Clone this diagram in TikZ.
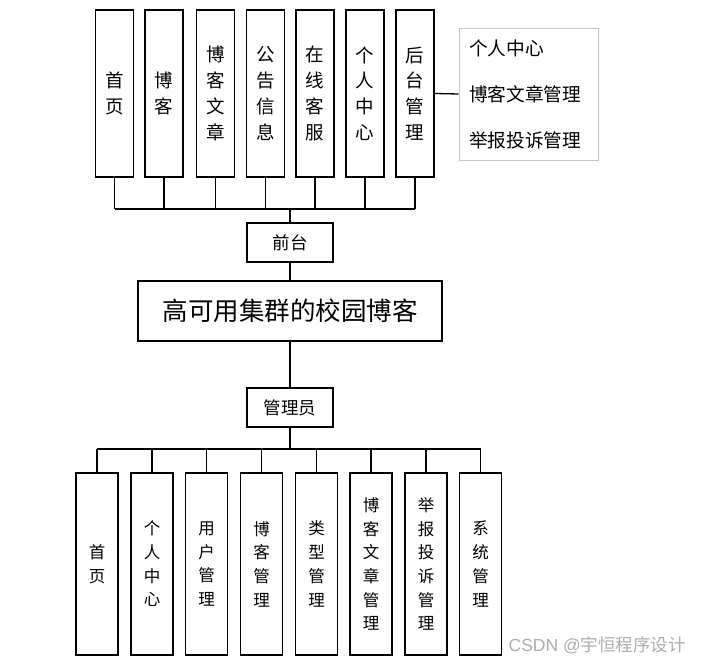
\documentclass[tikz,border=0pt]{standalone}
\usepackage{fontspec}
\newfontfamily\cjk{Noto Sans CJK SC}
\newfontfamily\latinwm{Liberation Sans}
\begin{document}
\begin{tikzpicture}[x=1pt,y=-1pt, line width=1.3pt,
  topbox/.style={draw, fill=white, minimum width=38pt, minimum height=167pt, inner sep=0pt, align=center, font=\cjk\fontsize{18.5}{25.7}\selectfont},
  botbox/.style={draw, fill=white, minimum width=42pt, minimum height=182pt, inner sep=0pt, align=center, font=\cjk\fontsize{16.5}{23.7}\selectfont},
  midbox/.style={draw, fill=white, inner sep=0pt, font=\cjk\fontsize{17.5}{20}\selectfont},
  panel/.style={draw=gray!45, line width=0.8pt, fill=white, minimum width=139pt, minimum height=132pt, inner xsep=10pt, text width=119pt, align=left, font=\cjk\fontsize{18.7}{46}\selectfont},
  link/.style={draw, line width=1.3pt},
  thick link/.style={draw, line width=2.6pt}]
\useasboundingbox (0,0) rectangle (715,663);
% top row
\node[topbox] (t1) at (114.5,93.5) {首\\页};
\node[topbox] (t2) at (164,93.5) {博\\客};
\node[topbox] (t3) at (215.7,93.5) {博\\客\\文\\章};
\node[topbox] (t4) at (265.7,93.5) {公\\告\\信\\息};
\node[topbox] (t5) at (315,93.5) {在\\线\\客\\服};
\node[topbox] (t6) at (365,93.5) {个\\人\\中\\心};
\node[topbox] (t7) at (415,93.5) {后\\台\\管\\理};
\node[panel] (pn) at (528.5,94) {个人中心\\博客文章管理\\举报投诉管理};
\draw[link] (t7.east) -- (pn.west);
% middle
\node[midbox, minimum width=86pt, minimum height=39pt] (front) at (290,242.5) {前台};
\node[draw, fill=white, inner sep=0pt, minimum width=304pt, minimum height=60pt, font=\cjk\fontsize{25.5}{30}\selectfont] (main) at (290,311) {高可用集群的校园博客};
\node[midbox, minimum width=86pt, minimum height=39pt] (admin) at (290,407.5) {管理员};
\coordinate (tbus) at (290,209);
\foreach \i in {1,...,7} {\draw[link] (t\i.south) -- (t\i.south |- tbus);}
\draw[link] (t1.south |- tbus) -- (t7.south |- tbus);
\draw[link] (front.north) -- (tbus);
\draw[link] (front.south) -- (main.north);
\draw[link] (main.south) -- (admin.north);
% bottom row
\node[botbox] (b1) at (97,564) {首\\页};
\node[botbox] (b2) at (152,564) {个\\人\\中\\心};
\node[botbox] (b3) at (206.5,564) {用\\户\\管\\理};
\node[botbox] (b4) at (261.5,564) {博\\客\\管\\理};
\node[botbox] (b5) at (316.5,564) {类\\型\\管\\理};
\node[botbox] (b6) at (371,564) {博\\客\\文\\章\\管\\理};
\node[botbox] (b7) at (426,564) {举\\报\\投\\诉\\管\\理};
\node[botbox] (b8) at (480.5,564) {系\\统\\管\\理};
\coordinate (bbus) at (290,449);
\draw[thick link] (admin.south) -- (bbus);
\draw[link] (b1.north |- bbus) -- (b8.north |- bbus);
\foreach \i in {1,...,8} {\draw[link] (b\i.north |- bbus) -- (b\i.north);}
% watermark
\node[text=gray!65, inner sep=0pt, anchor=west, font=\cjk\fontsize{17.5}{20}\selectfont] (wm) at (508,645) {{\latinwm CSDN @}宇恒程序设计};
\end{tikzpicture}
\end{document}
